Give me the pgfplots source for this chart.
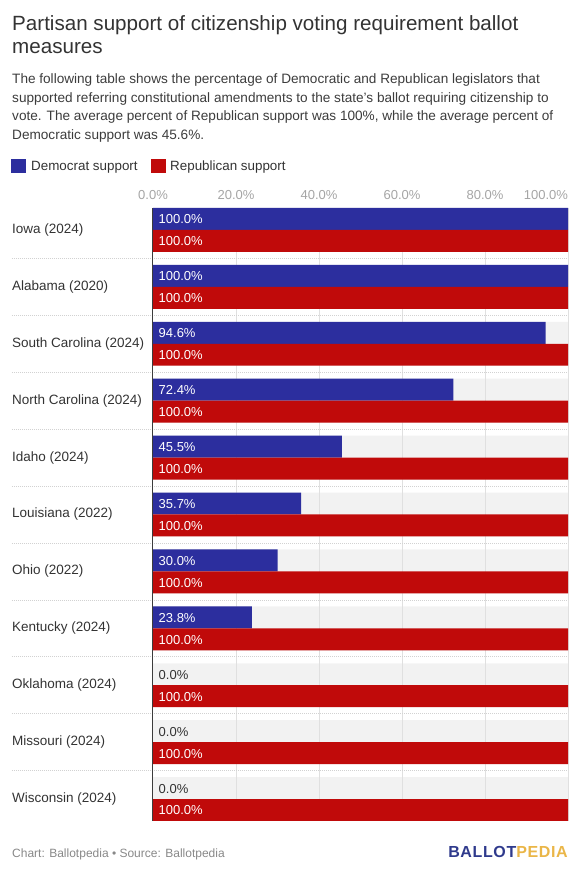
\documentclass[border=0pt]{standalone}
\usepackage{fontspec}
\setmainfont{Liberation Sans}
\usepackage{pgfplots}
\pgfplotsset{compat=1.18}
\usepackage{pgfplotstable}
\definecolor{dem}{RGB}{44,46,158}
\definecolor{rep}{RGB}{192,10,10}
\definecolor{track}{RGB}{242,242,242}
\definecolor{gridc}{RGB}{224,224,224}
\definecolor{sepc}{RGB}{210,210,210}
\definecolor{txt}{RGB}{51,51,51}
\definecolor{subtxt}{RGB}{60,60,60}
\definecolor{ticktxt}{RGB}{165,165,165}
\definecolor{foot}{RGB}{136,136,136}
\definecolor{axc}{RGB}{60,60,60}
\definecolor{logoblue}{RGB}{47,58,140}
\definecolor{logogold}{RGB}{234,182,72}

\pgfplotstableread{
idx dem rep
0 100 100
1 100 100
2 94.6 100
3 72.4 100
4 45.5 100
5 35.7 100
6 30.0 100
7 23.8 100
8 0 100
9 0 100
10 0 100
}\data

\pgfplotsset{vlabel/.style={draw=none, mark=none, unbounded coords=discard,
  nodes near coords={\pgfmathprintnumber[fixed,fixed zerofill,precision=1,assume math mode=true]{\pgfplotspointmeta}\%},
  every node near coord/.style={anchor=west, inner sep=0pt, xshift=5.5pt, yshift=-0.5pt, font=\fontsize{13}{15}\selectfont, text=#1}}}

\begin{document}
\begin{tikzpicture}
\begin{scope}[x=1pt,y=1pt]
\path[use as bounding box] (0,0) rectangle (580,876);
\begin{scope}[every node/.style={anchor=base west, inner sep=0pt}]
\node[text=txt, font=\fontsize{20.6}{23}\selectfont] at (12,845) {Partisan support of citizenship voting requirement ballot};
\node[text=txt, font=\fontsize{20.6}{23}\selectfont] at (12,822) {measures};
\node[text=subtxt, font=\fontsize{13.6}{18}\selectfont] at (12,792.5) {The following table shows the percentage of Democratic and Republican legislators that};
\node[text=subtxt, font=\fontsize{13.6}{18}\selectfont] at (12,773.8) {supported referring constitutional amendments to the state's ballot requiring citizenship to};
\node[text=subtxt, font=\fontsize{13.6}{18}\selectfont] at (12,755.1) {vote. The average percent of Republican support was 100\%, while the average percent of};
\node[text=subtxt, font=\fontsize{13.6}{18}\selectfont] at (12,736.4) {Democratic support was 45.6\%.};
\fill[dem] (11,703) rectangle (26,717);
\node[text=txt, font=\fontsize{13.4}{18}\selectfont] at (31,705.5) {Democrat support};
\fill[rep] (151,703) rectangle (166,717);
\node[text=txt, font=\fontsize{13.4}{18}\selectfont] at (170,705.5) {Republican support};
\node[text=foot, font=\fontsize{12}{14}\selectfont] at (12,19) {Chart: Ballotpedia \textbullet{} Source: Ballotpedia};
\end{scope}
\node[anchor=base east, inner sep=0pt, font=\fontsize{16}{17}\selectfont\bfseries] at (568,18) {\addfontfeatures{LetterSpace=4}\textcolor{logoblue}{BALLOT}\textcolor{logogold}{PEDIA}};
\end{scope}

\begin{axis}[
  at={(153pt,55pt)}, anchor=south west,
  scale only axis, width=415pt, height=613pt,
  xmin=0, xmax=100, ymin=-10.386, ymax=0.386,
  axis line style={draw=none},
  major tick length=0pt,
  clip=false,
  xtick={0,20,40,60,80,100},
  xticklabels={0.0\%,20.0\%,40.0\%,60.0\%,80.0\%,\makebox[0pt][r]{100.0\%}},
  xticklabel pos=upper,
  xticklabel style={anchor=base, yshift=8pt, inner sep=0pt, text=ticktxt, font=\fontsize{13}{15}\selectfont},
  ytick={-10,...,0},
  yticklabels={Wisconsin (2024),Missouri (2024),Oklahoma (2024),Kentucky (2024),Ohio (2022),Louisiana (2022),Idaho (2024),North Carolina (2024),South Carolina (2024),Alabama (2020),Iowa (2024)},
  yticklabel style={anchor=west, xshift=-141pt, inner sep=0pt, text=txt, font=\fontsize{13.5}{16}\selectfont},
]
\addplot[xbar, bar shift=0pt, bar width=0.386, fill=track, draw=none] table[x expr=100, y expr=-\thisrow{idx}+0.193]{\data};
\addplot[xbar, bar shift=0pt, bar width=0.386, fill=track, draw=none] table[x expr=100, y expr=-\thisrow{idx}-0.193]{\data};
\draw[gridc, line width=0.8pt] (axis cs:20,-10.386) -- (axis cs:20,0.386);
\draw[gridc, line width=0.8pt] (axis cs:40,-10.386) -- (axis cs:40,0.386);
\draw[gridc, line width=0.8pt] (axis cs:60,-10.386) -- (axis cs:60,0.386);
\draw[gridc, line width=0.8pt] (axis cs:80,-10.386) -- (axis cs:80,0.386);
\draw[gridc, line width=0.8pt] (axis cs:100,-10.386) -- (axis cs:100,0.386);
\foreach \k in {0.5,1.5,2.5,3.5,4.5,5.5,6.5,7.5,8.5,9.5}{
  \edef\tmp{\noexpand\draw[sepc, line width=0.6pt, dash pattern=on 1pt off 1pt] ([xshift=-141pt]axis cs:0,-\k) -- (axis cs:100,-\k);}\tmp
}
\addplot[xbar, bar shift=0pt, bar width=0.386, fill=dem, draw=none] table[x=dem, y expr=-\thisrow{idx}+0.193]{\data};
\addplot[xbar, bar shift=0pt, bar width=0.386, fill=rep, draw=none] table[x=rep, y expr=-\thisrow{idx}-0.193]{\data};
\draw[axc, line width=1pt] (axis cs:0,-10.386) -- (axis cs:0,0.386);
\addplot[vlabel=white, point meta=\thisrow{dem}] table[x expr=0, y expr={\thisrow{dem}>0 ? -\thisrow{idx}+0.193 : nan}]{\data};
\addplot[vlabel=txt, point meta=\thisrow{dem}] table[x expr=0, y expr={\thisrow{dem}>0 ? nan : -\thisrow{idx}+0.193}]{\data};
\addplot[vlabel=white, point meta=\thisrow{rep}] table[x expr=0, y expr=-\thisrow{idx}-0.193]{\data};
\end{axis}
\end{tikzpicture}
\end{document}
